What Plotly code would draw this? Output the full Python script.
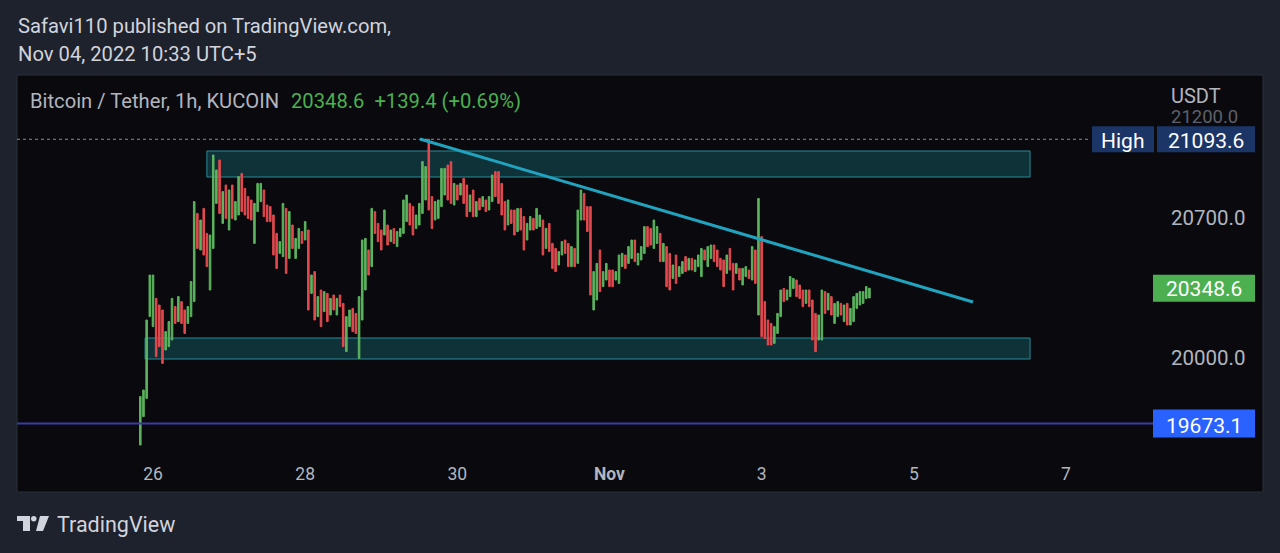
import plotly.graph_objects as go
import pandas as pd

# ---------------- data ----------------
start_time = "2022-10-25 20:00"
opens = [19565, 19707, 19798, 20207, 20157, 20298, 20265, 20240, 20040, 20057,
         20090, 20257, 20182, 20282, 20240, 20173, 20207, 20282, 20723, 20540,
         20748, 20623, 20340, 20548, 20773, 20990, 20673, 20865, 20640, 20865,
         20690, 20715, 20923, 20848, 20807, 20790, 20573, 20732, 20782, 20840,
         20765, 20757, 20715, 20623, 20523, 20507, 20748, 20498, 20665, 20498,
         20548, 20632, 20590, 20640, 20323, 20432, 20207, 20340, 20232, 20323,
         20215, 20315, 20215, 20315, 20273, 20032, 20157, 20248, 20223, 19998,
         20190, 20340, 20540, 20457, 20732, 20673, 20640, 20615, 20665, 20582,
         20648, 20557, 20607, 20623, 20682, 20773, 20757, 20648, 20665, 20723,
         20790, 21093.6, 20807, 20690, 20698, 20757, 20815, 20965, 20982, 20765,
         20865, 20815, 20898, 20865, 20732, 20840, 20707, 20798, 20757, 20790,
         20740, 20782, 20932, 20932, 20873, 20782, 20665, 20740, 20740, 20632,
         20748, 20707, 20590, 20640, 20698, 20648, 20657, 20690, 20548, 20673,
         20573, 20548, 20465, 20515, 20590, 20573, 20457, 20548, 20473, 20690,
         20823, 20757, 20757, 20240, 20290, 20540, 20357, 20390, 20440, 20440,
         20390, 20373, 20457, 20515, 20473, 20498, 20590, 20465, 20490, 20523,
         20657, 20648, 20548, 20573, 20623, 20482, 20557, 20523, 20398, 20515,
         20407, 20423, 20507, 20440, 20498, 20432, 20457, 20407, 20540, 20457,
         20498, 20565, 20540, 20498, 20490, 20423, 20548, 20473, 20423, 20448,
         20365, 20407, 20440, 20390, 20540, 20215, 20607, 20282, 20190, 20173,
         20073, 20123, 20207, 20348, 20290, 20307, 20348, 20390, 20365, 20340,
         20273, 20340, 20290, 20223, 20090, 20090, 20332, 20240, 20307, 20173,
         20207, 20273, 20182, 20273, 20165, 20182, 20248, 20265, 20273, 20298,
         20300]
closes = [19807, 19840, 20190, 20415, 20415, 20007, 20057, 19973, 20132, 20182,
          20298, 20173, 20307, 20173, 20123, 20257, 20382, 20782, 20548, 20690,
          20515, 20457, 20615, 21015, 20940, 20723, 20832, 20698, 20840, 20698,
          20782, 20907, 20732, 20715, 20698, 20690, 20773, 20873, 20873, 20707,
          20682, 20682, 20515, 20448, 20582, 20773, 20423, 20732, 20548, 20598,
          20648, 20573, 20682, 20240, 20415, 20190, 20307, 20157, 20332, 20182,
          20298, 20240, 20298, 20257, 20057, 20207, 20240, 20132, 20123, 20307,
          20590, 20598, 20415, 20748, 20623, 20582, 20540, 20740, 20565, 20640,
          20573, 20632, 20648, 20790, 20815, 20665, 20615, 20715, 20773, 20982,
          20957, 20740, 20648, 20782, 20790, 20948, 20948, 20790, 20773, 20873,
          20790, 20873, 20773, 20707, 20815, 20707, 20782, 20740, 20807, 20732,
          20807, 20915, 20807, 20773, 20715, 20640, 20790, 20673, 20615, 20748,
          20640, 20540, 20673, 20707, 20640, 20748, 20715, 20515, 20648, 20532,
          20448, 20432, 20532, 20582, 20523, 20457, 20557, 20457, 20740, 20840,
          20690, 20632, 20315, 20432, 20473, 20332, 20432, 20473, 20357, 20357,
          20432, 20515, 20523, 20448, 20557, 20590, 20482, 20523, 20557, 20657,
          20557, 20565, 20690, 20657, 20482, 20573, 20357, 20340, 20465, 20373,
          20457, 20482, 20432, 20498, 20440, 20490, 20515, 20548, 20490, 20557,
          20565, 20482, 20457, 20440, 20357, 20515, 20440, 20340, 20473, 20390,
          20448, 20457, 20398, 20557, 20373, 20798, 20107, 20098, 20065, 20065,
          20157, 20223, 20340, 20282, 20340, 20407, 20398, 20307, 20298, 20257,
          20340, 20257, 20090, 20032, 20215, 20340, 20223, 20323, 20215, 20273,
          20282, 20215, 20265, 20165, 20248, 20307, 20323, 20332, 20332, 20357,
          20348.6]

last_price = 20348.6
high_price = 21093.6
alert_price = 19673.1
change_text = "+139.4 (+0.69%)"

tick_dates = ["2022-10-26", "2022-10-28", "2022-10-30", "2022-11-01",
              "2022-11-03", "2022-11-05", "2022-11-07"]
tick_labels = ["26", "28", "30", "<b>Nov</b>", "3", "5", "7"]
price_ticks = [20000, 20700]
price_tick_labels = ["20000.0", "20700.0"]
faded_tick = 21200

trend_x = ["2022-10-29 12:13", "2022-11-05 18:40"]
trend_y = [21095, 20280]
top_zone = ["2022-10-26 17:00", "2022-11-06 12:40", 20905, 21035]
bottom_zone = ["2022-10-25 21:30", "2022-11-06 12:40", 19995, 20100]

x_range = ["2022-10-24 05:06", "2022-11-08 04:05"]
y_range = [19515, 21415]

# ---------------- geometry helpers ----------------
W, H = 1280, 553
L, R, T, B = 17, 1155, 75, 455          # plot area in pixels
PW, PH = R - L, B - T
usd_per_px = (y_range[1] - y_range[0]) / PH


def px(xp):
    return (xp - L) / PW


def py(yp):
    return (B - yp) / PH


times = pd.date_range(start_time, periods=len(opens), freq="h")
highs = [max(o, c) for o, c in zip(opens, closes)]
lows = [min(o, c) for o, c in zip(opens, closes)]

GREEN = "#5bb45e"
RED = "#e24a4f"
TXT = "#b2b5be"
FONT = "Roboto"

fig = go.Figure()

fig.add_trace(go.Candlestick(
    x=times, open=opens, high=highs, low=lows, close=closes,
    increasing=dict(line=dict(color=GREEN, width=1), fillcolor=GREEN),
    decreasing=dict(line=dict(color=RED, width=1), fillcolor=RED),
    whiskerwidth=0, showlegend=False, hoverinfo="skip"))

fig.add_trace(go.Scatter(
    x=trend_x, y=trend_y, mode="lines",
    line=dict(color="#1fa3bf", width=3), showlegend=False, hoverinfo="skip"))

shapes = []
# chart panel background
shapes.append(dict(type="rect", xref="paper", yref="paper", layer="below",
                   x0=px(17), x1=px(1263), y0=py(492), y1=py(75),
                   fillcolor="#0a0a0e", line=dict(color="#2a2e39", width=1)))
# zones
for z in (top_zone, bottom_zone):
    shapes.append(dict(type="rect", xref="x", yref="y", layer="below",
                       x0=z[0], x1=z[1], y0=z[2], y1=z[3],
                       fillcolor="rgba(30,150,165,0.28)",
                       line=dict(color="#268c98", width=1)))
# high dotted line
shapes.append(dict(type="line", xref="paper", yref="y",
                   x0=0, x1=px(1090), y0=high_price, y1=high_price,
                   line=dict(color="#8a8d96", width=1, dash="dot")))
# alert horizontal line
shapes.append(dict(type="line", xref="paper", yref="y",
                   x0=0, x1=1, y0=alert_price, y1=alert_price,
                   line=dict(color="#3b3ba6", width=2)))


def label_box(x0p, x1p, center_price, hpx, color):
    return dict(type="rect", xref="paper", yref="y",
                x0=px(x0p), x1=px(x1p),
                y0=center_price - hpx / 2 * usd_per_px,
                y1=center_price + hpx / 2 * usd_per_px,
                fillcolor=color, line=dict(width=0))


shapes.append(label_box(1092, 1154, high_price, 26, "#1b3566"))
shapes.append(label_box(1157, 1255, high_price, 26, "#1b3566"))
shapes.append(label_box(1153, 1255, last_price, 27, "#4caf50"))
shapes.append(label_box(1153, 1255, alert_price, 28, "#2962ff"))

# TradingView logo glyph
shapes.append(dict(type="rect", xref="paper", yref="paper", x0=px(17), x1=px(30),
                   y0=py(521), y1=py(516), fillcolor="#d1d4dc", line=dict(width=0)))
shapes.append(dict(type="rect", xref="paper", yref="paper", x0=px(23), x1=px(30),
                   y0=py(531), y1=py(516), fillcolor="#d1d4dc", line=dict(width=0)))
shapes.append(dict(type="circle", xref="paper", yref="paper", x0=px(31), x1=px(36.5),
                   y0=py(521.5), y1=py(516), fillcolor="#d1d4dc", line=dict(width=0)))
shapes.append(dict(type="path", xref="paper", yref="paper",
                   path=f"M {px(40)},{py(516)} L {px(49)},{py(516)} L {px(43)},{py(531)} L {px(36)},{py(531)} Z",
                   fillcolor="#d1d4dc", line=dict(width=0)))

ann = []


def text(xp, yp, s, size, color, anchor="left"):
    ann.append(dict(xref="paper", yref="paper", x=px(xp), y=py(yp), text=s,
                    showarrow=False, xanchor=anchor, yanchor="middle",
                    font=dict(family=FONT, size=size, color=color)))


text(16, 26, "Safavi110 published on TradingView.com,", 20.2, "#d1d4dc")
text(16, 54, "Nov 04, 2022 10:33 UTC+5", 20.2, "#d1d4dc")
text(28, 101, "Bitcoin / Tether, 1h, KUCOIN", 20.2, TXT)
text(289, 101, f"{last_price:.1f}\u00a0\u00a0{change_text}", 20.2, "#4caf50")
text(1169, 96, "USDT", 20, TXT)
text(1169, 117, f"{faded_tick:.1f}", 18.5, "#5d606b")
text(1122.5, 140.5, "High", 21, "#ffffff", anchor="center")
text(1206, 140.5, f"{high_price:.1f}", 21, "#ffffff", anchor="center")
text(1204, 288.5, f"{last_price:.1f}", 21, "#ffffff", anchor="center")
text(1204, 426, f"{alert_price:.1f}", 21, "#ffffff", anchor="center")
text(55, 524, "TradingView", 21.5, "#d1d4dc")

fig.update_layout(
    width=W, height=H,
    margin=dict(l=L, r=W - R, t=T, b=H - B, pad=0),
    paper_bgcolor="#1e222d", plot_bgcolor="rgba(0,0,0,0)",
    shapes=shapes, annotations=ann, showlegend=False,
    font=dict(family=FONT, color=TXT),
    xaxis=dict(type="date", range=x_range, rangeslider=dict(visible=False),
               tickvals=tick_dates, ticktext=tick_labels, showgrid=False,
               zeroline=False, showline=False, ticks="", ticklabelstandoff=6,
               tickfont=dict(family=FONT, size=17.5, color=TXT)),
    yaxis=dict(range=y_range, side="right", tickvals=price_ticks,
               ticktext=price_tick_labels, showgrid=False, zeroline=False,
               showline=False, ticks="", ticklabelstandoff=15,
               tickfont=dict(family=FONT, size=20.5, color=TXT)),
)

fig.write_html("out.html")
